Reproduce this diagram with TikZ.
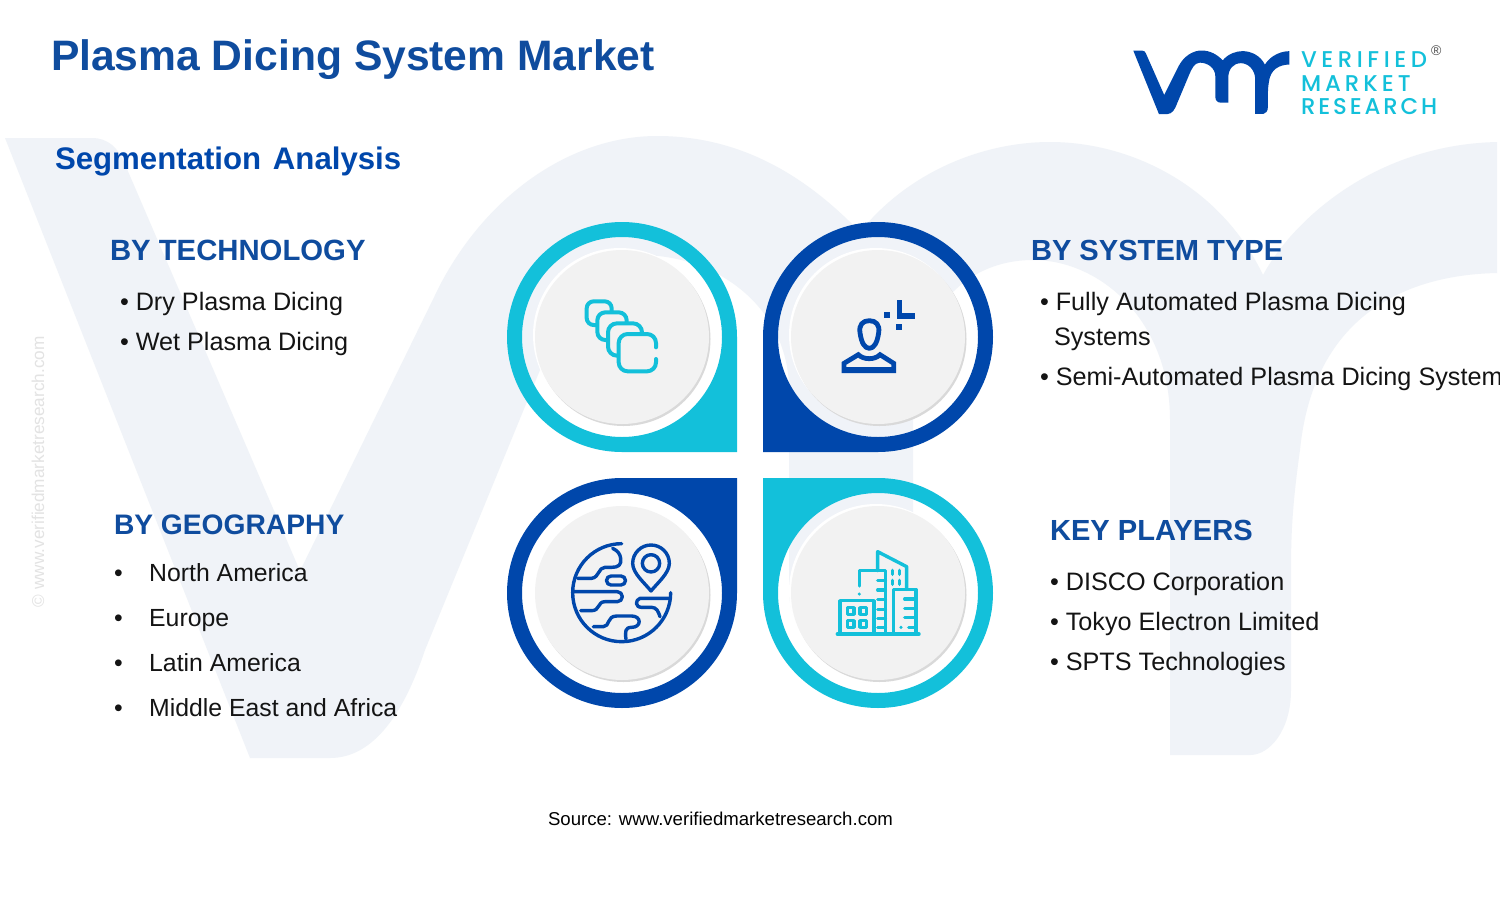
\documentclass[tikz,border=0pt]{standalone}
\usepackage{fontspec}
\setmainfont{Liberation Sans}
\newfontfamily\logofontA[LetterSpace=20]{Poppins Medium}
\newfontfamily\logofontB[LetterSpace=17.5]{Poppins Medium}
\newfontfamily\logofontC[LetterSpace=12.6]{Poppins Medium}
\definecolor{wm}{HTML}{F0F3F8}
\definecolor{cyanB}{HTML}{13C0DA}
\definecolor{navy}{HTML}{0047AB}
\definecolor{headblue}{HTML}{0F4C9E}
\definecolor{bodytext}{HTML}{141414}
\definecolor{discgrey}{HTML}{F2F2F2}
\newcommand{\vmrpath}{(5,138) -- (92,138) .. controls (108,138) and (118,148) .. (124,162) -- (300,571) -- (440,285) .. controls (490,190) and (575,136) .. (657,136) .. controls (740,136) and (805,175) .. (860,232) .. controls (910,170) and (985,142) .. (1050,142) .. controls (1130,142) and (1220,185) .. (1263,275) .. controls (1290,225) and (1370,145) .. (1497,142) -- (1497,273) .. controls (1400,275) and (1313,320) .. (1300,450) .. controls (1293,500) and (1291,530) .. (1291,570) -- (1291,690) .. controls (1291,730) and (1270,755) .. (1250,755) -- (1170,755) -- (1170,420) .. controls (1170,320) and (1100,260) .. (1033,260) .. controls (960,260) and (913,320) .. (913,400) -- (913,647) -- (845,647) .. controls (810,647) and (789,625) .. (789,590) -- (789,390) .. controls (789,310) and (720,255) .. (640,255) .. controls (590,255) and (560,320) .. (540,370) -- (425,650) .. controls (405,710) and (375,758) .. (330,758) -- (250,758) -- cycle}
\tikzset{
  x=0.5pt,y=-0.5pt,
  txt/.style={anchor=base west,inner sep=0pt,outer sep=0pt},
  item/.style={txt,text=bodytext,font=\fontsize{12.6}{15}\selectfont},
  geoitem/.style={txt,text=bodytext,font=\fontsize{12.4}{15}\selectfont},
  heading/.style={txt,text=headblue,font=\fontsize{#1}{18}\selectfont\bfseries},
  drop/.style={fill=#1,even odd rule,draw=none},
  disc/.style={circle,fill=discgrey,draw=none,minimum size=87pt,inner sep=0pt},
  iconscope/.style={x=0.16667pt,y=-0.16667pt,line cap=round,line join=round},
  cicon/.style={draw=cyanB,line width=2pt},
  bicon/.style={draw=navy,line width=2.4pt},
  gicon/.style={draw=navy,line width=1.7pt},
  bldg/.style={draw=cyanB,line width=1.7pt},
  logotext/.style={txt,text=cyanB},
}
\begin{document}
\begin{tikzpicture}
\useasboundingbox (0,0) rectangle (1500,911);
\clip (0,0) rectangle (1500,911);
\fill[white] (0,0) rectangle (1500,911);
% watermark
\fill[wm] \vmrpath;
% logo
\begin{scope}[shift={(1132.8,36.6)},x=0.0523pt,y=-0.0511pt]
\fill[navy] \vmrpath;
\end{scope}
\node[logotext,font=\logofontA\fontsize{11.4}{14}\selectfont] (lg1) at (1301,67) {VERIFIED};
\node[logotext,font=\logofontB\fontsize{11.4}{14}\selectfont] (lg2) at (1301,91) {MARKET};
\node[logotext,font=\logofontC\fontsize{11.4}{14}\selectfont] (lg3) at (1301,114) {RESEARCH};
\node[txt,text=black!70,font=\fontsize{7}{8}\selectfont] (lgr) at (1431,55) {®};
% titles
\node[txt,text=headblue,font=\fontsize{21.3}{26}\selectfont\bfseries] (title) at (51,70) {Plasma Dicing System Market};
\node[txt,text=navy,font=\fontsize{15.6}{20}\selectfont\bfseries] (seg) at (55,169) {Segmentation\hspace{1.5pt} Analysis};
\node[txt,rotate=90,text=black!11,font=\fontsize{8.6}{10}\selectfont] (vert) at (44,607) {© www.verifiedmarketresearch.com};
% teardrops
\fill[drop=cyanB] (622,452) arc[start angle=90,end angle=360,radius=115] -- (737,452) -- cycle (622,337) circle[radius=100];
\fill[drop=navy] (763,337) arc[start angle=180,end angle=450,radius=115] -- (763,452) -- cycle (878,337) circle[radius=100];
\fill[drop=navy] (737,593) arc[start angle=0,end angle=270,radius=115] -- (737,478) -- cycle (622,593) circle[radius=100];
\fill[drop=cyanB] (878,478) arc[start angle=270,end angle=540,radius=115] -- (763,478) -- cycle (878,593) circle[radius=100];
% discs
\foreach \cx/\cy/\nm in {622/337/da,878/337/db,622/593/dc,878/593/dd}{
  \fill[white] (\cx-2,\cy-2) circle[radius=87];
  \fill[black!15] (\cx+1.5,\cy+2) circle[radius=87];
  \node[disc] (\nm) at (\cx,\cy) {};
}
% icon 1: stacked squares
\begin{scope}[shift={(490,210)},iconscope]
\draw[cicon,fill=discgrey,rounded corners=3.5pt] (290,274) rectangle (365,345);
\draw[cicon,fill=discgrey,rounded corners=4pt] (322,307) rectangle (410,390);
\draw[cicon,fill=discgrey,rounded corners=4.5pt] (354,340) rectangle (456,437);
\fill[discgrey,rounded corners=4.5pt] (386,372) rectangle (498,484);
\draw[cicon,rounded corners=4.5pt] (498,412) -- (498,372) -- (386,372) -- (386,484) -- (498,484) -- (498,447);
\end{scope}
% icon 2: person
\begin{scope}[shift={(750,210)},iconscope]
\draw[bicon] (358,332) .. controls (378,332) and (390,345) .. (386,368) .. controls (382,398) and (372,415) .. (358,415) .. controls (344,415) and (334,398) .. (330,368) .. controls (326,345) and (338,332) .. (358,332) -- cycle;
\draw[bicon,line join=miter] (282,482) -- (282,460) -- (325,434) .. controls (340,450) and (375,450) .. (390,434) -- (431,460) -- (431,482) -- cycle;
\fill[navy] (275,470) rectangle (438,490);
\fill[navy] (440,270) rectangle (456,326);
\fill[navy] (440,310) rectangle (495,326);
\fill[navy] (403,307) rectangle (421,325);
\fill[navy] (439,343) rectangle (457,361);
\end{scope}
% icon 3: globe
\begin{scope}[shift={(540,520)},iconscope]
\draw[gicon] (245,71) arc[start angle=270,end angle=0,radius=147];
\draw[gicon] (218,85) .. controls (232,92) and (240,100) .. (242,115) .. controls (245,135) and (235,142) .. (215,142) -- (195,142) .. controls (175,142) and (178,172) .. (155,175) -- (113,175);
\draw[gicon] (213,168) -- (243,168) arc[start angle=270,end angle=450,radius=13.5] -- (213,195) arc[start angle=90,end angle=270,radius=13.5] -- cycle;
\draw[gicon] (100,215) -- (232,215) arc[start angle=270,end angle=450,radius=15] -- (195,245) .. controls (172,245) and (180,272) .. (155,272) -- (122,272);
\draw[gicon] (160,320) -- (190,320) .. controls (210,320) and (200,288) .. (230,288) -- (275,288) .. controls (305,288) and (305,322) .. (275,322) .. controls (255,322) and (255,335) .. (258,358);
\draw[gicon] (390,235) -- (300,235) .. controls (285,240) and (285,262) .. (305,262) -- (335,262) .. controls (350,262) and (355,275) .. (360,290);
\draw[gicon] (333,213) .. controls (315,190) and (278,160) .. (278,130) arc[start angle=180,end angle=360,radius=55] .. controls (388,160) and (351,190) .. (333,213) -- cycle;
\draw[gicon] (333,130) circle[radius=26];
\end{scope}
% icon 4: buildings
\begin{scope}[shift={(810,530)},iconscope]
\draw[bldg] (82,312) -- (327,312);
\draw[bldg] (90,312) -- (90,212) -- (192,212) -- (192,312);
\foreach \wx/\wy in {122/243,160/243,122/282,160/282}{
  \draw[bldg] (\wx-10,\wy-10) rectangle (\wx+10,\wy+10);
}
\draw[bldg] (148,168) -- (148,122) -- (226,122) -- (226,312);
\fill[cyanB] (148,192) circle[radius=5];
\foreach \ty in {152,180,208,238,265,292}{ \draw[bldg] (203,\ty) -- (226,\ty); }
\draw[bldg] (203,122) -- (203,65) -- (290,110) -- (290,178);
\draw[bldg] (250,312) -- (250,178) -- (318,178) -- (318,312);
\foreach \ty in {207,236,263}{ \draw[bldg] (284,\ty) -- (318,\ty); }
\draw[bldg] (296,292) -- (318,292);
\fill[cyanB] (273,292) circle[radius=5];
\foreach \wx/\wy in {247/127,268/127,247/157,268/157}{
  \draw[bldg] (\wx,\wy-6) -- (\wx,\wy+6);
}
\end{scope}
% text blocks
\node[heading=14.65] (h1) at (110,260) {BY TECHNOLOGY};
\node[item] (t1) at (120,310) {• Dry Plasma Dicing};
\node[item] (t2) at (120,350) {• Wet Plasma Dicing};
\node[heading=14.55] (h2) at (1031,260) {BY SYSTEM TYPE};
\node[item] (s1) at (1040,310) {• Fully Automated Plasma Dicing};
\node[item] (s2) at (1054,345) {Systems};
\node[item] (s3) at (1040,385) {• Semi-Automated Plasma Dicing Systems};
\node[heading=14.1] (h3) at (114,534) {BY GEOGRAPHY};
\node[geoitem] (g1) at (114,581) {\makebox[17.6pt][l]{•}North America};
\node[geoitem] (g2) at (114,626) {\makebox[17.6pt][l]{•}Europe};
\node[geoitem] (g3) at (114,671) {\makebox[17.6pt][l]{•}Latin America};
\node[geoitem] (g4) at (114,716) {\makebox[17.6pt][l]{•}Middle East and Africa};
\node[heading=14.55] (h4) at (1050,540) {KEY PLAYERS};
\node[item] (k1) at (1050,590) {• DISCO Corporation};
\node[item] (k2) at (1050,630) {• Tokyo Electron Limited};
\node[item] (k3) at (1050,670) {• SPTS Technologies};
\node[txt,text=black,font=\fontsize{9.3}{11}\selectfont] (src) at (548,825) {Source: www.verifiedmarketresearch.com};
\end{tikzpicture}
\end{document}
